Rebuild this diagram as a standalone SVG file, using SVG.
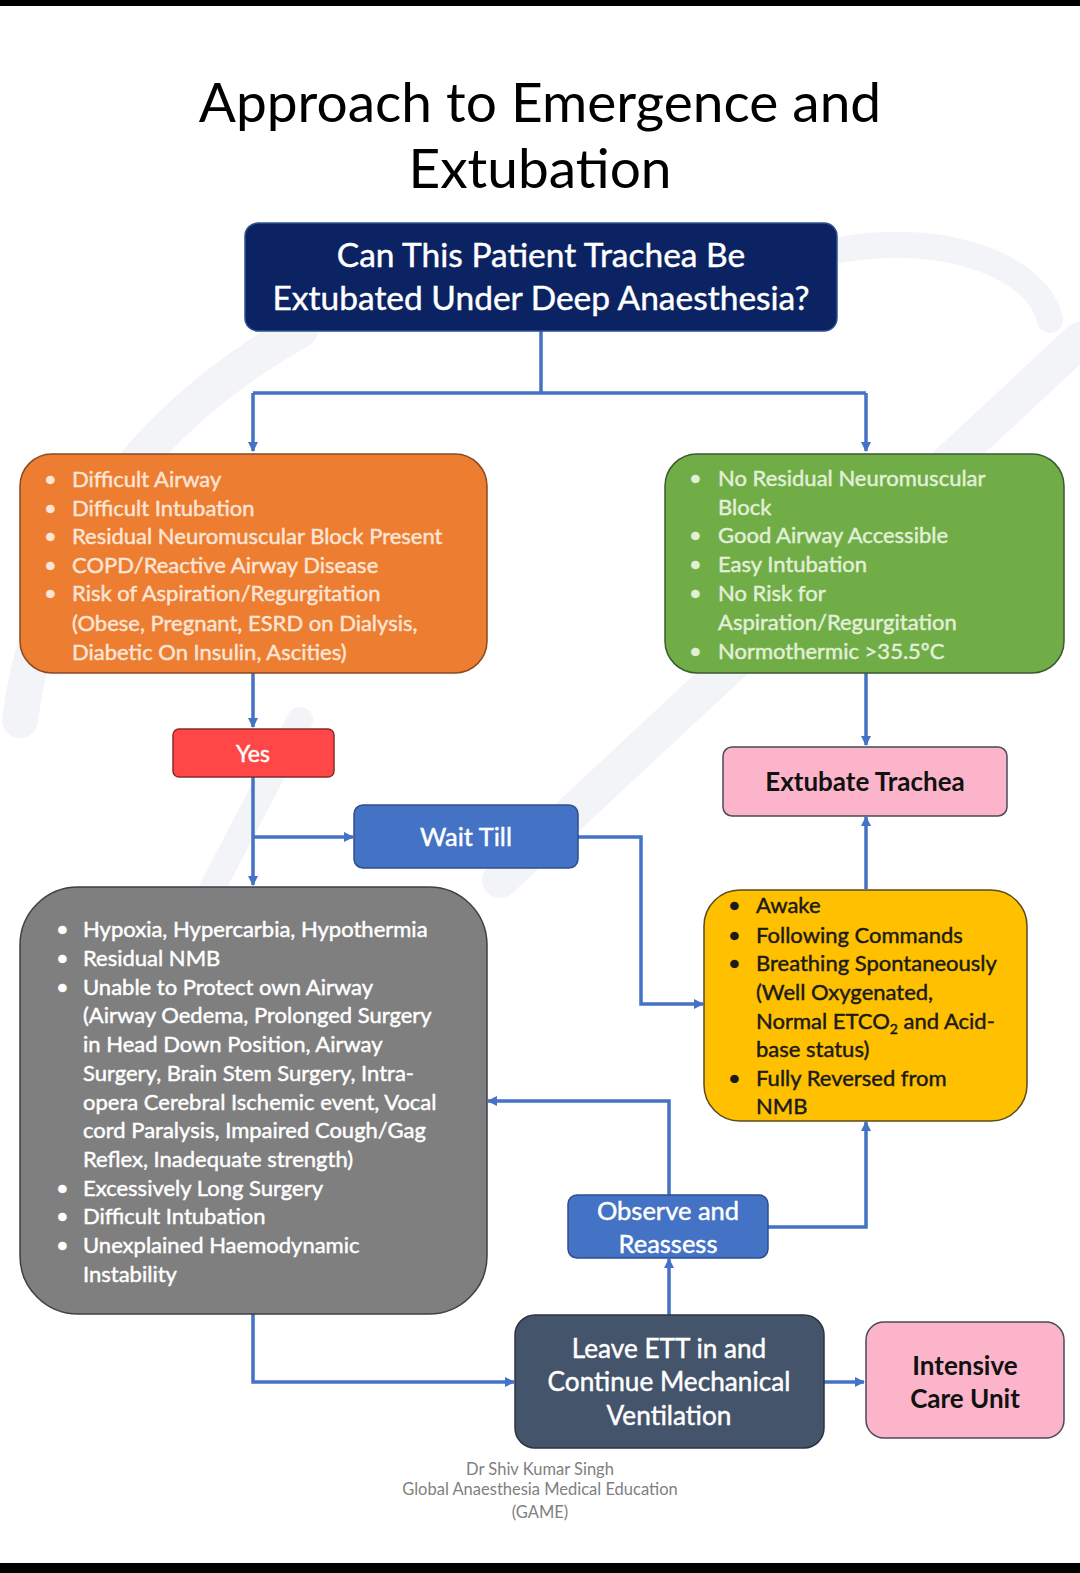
<svg xmlns="http://www.w3.org/2000/svg" width="1080" height="1573" viewBox="0 0 1080 1573">
<defs>
<marker id="arr" viewBox="0 0 10 10" refX="9" refY="5" markerWidth="10" markerHeight="10" markerUnits="userSpaceOnUse" orient="auto">
<path d="M0,0 L10,5 L0,10 z" fill="#4472c4"/>
</marker>
<style>
.t{font-family:Lato,"Open Sans","Liberation Sans",sans-serif;}
.title{font-size:55px;fill:#000;text-anchor:middle;}
.body{font-size:22px;stroke-width:0.45px;}
.c{text-anchor:middle;}
.w{fill:#ffffff;stroke:#ffffff;}
.cream{fill:#fbe5d6;stroke:#fbe5d6;}
.lg{fill:#e2f0d9;stroke:#e2f0d9;}
.dk{fill:#1a1a1a;stroke:#1a1a1a;}
.s{stroke-width:0.45px;}
.b{font-weight:bold;}
.con{fill:none;stroke:#4472c4;stroke-width:3.5;}
.wm{fill:none;stroke:#f3f4f8;stroke-linecap:round;}
.foot{font-size:16.5px;fill:#808080;text-anchor:middle;}
</style>
</defs>
<rect x="0" y="0" width="1080" height="1573" fill="#ffffff"/>
<g id="watermark">
<path class="wm" d="M20,720 C40,560 140,420 300,330" stroke-width="36"/>
<path class="wm" d="M500,880 L1080,340" stroke-width="36"/>
<path class="wm" d="M840,250 C950,230 1040,270 1050,320" stroke-width="26"/>
<path class="wm" d="M60,1180 L300,720" stroke-width="26"/>
</g>
<rect x="0" y="0" width="1080" height="6" fill="#000"/>
<rect x="0" y="1563" width="1080" height="10" fill="#000"/>
<g id="title">
<text class="t title" x="540" y="122">Approach to Emergence and</text>
<text class="t title" x="540" y="188">Extubation</text>
</g>
<g id="connectors">
<path class="con" d="M541,331 V393 M253,393 H866"/>
<path class="con" d="M253,393 V451" marker-end="url(#arr)"/>
<path class="con" d="M866,393 V451" marker-end="url(#arr)"/>
<path class="con" d="M253,673 V727" marker-end="url(#arr)"/>
<path class="con" d="M866,673 V745" marker-end="url(#arr)"/>
<path class="con" d="M253,777 V885" marker-end="url(#arr)"/>
<path class="con" d="M253,837 H353" marker-end="url(#arr)"/>
<path class="con" d="M578,837 H641 V1004 H703" marker-end="url(#arr)"/>
<path class="con" d="M866,889 V817" marker-end="url(#arr)"/>
<path class="con" d="M669,1195 V1101 H488" marker-end="url(#arr)"/>
<path class="con" d="M768,1227 H866 V1122" marker-end="url(#arr)"/>
<path class="con" d="M669,1315 V1259" marker-end="url(#arr)"/>
<path class="con" d="M253,1314 V1382 H514" marker-end="url(#arr)"/>
<path class="con" d="M824,1382 H864" marker-end="url(#arr)"/>
</g>
<g id="n-question">
<rect x="245" y="223" width="592" height="108" rx="13" fill="#0b2263" stroke="#2f528f" stroke-width="1.5"/>
<text class="t w c s" font-size="33.5" x="541" y="267">Can This Patient Trachea Be</text>
<text class="t w c s" font-size="33.5" x="541" y="310">Extubated Under Deep Anaesthesia?</text>
</g>
<g id="n-contra" class="t body cream">
<rect x="20" y="454" width="467" height="219" rx="32" fill="#ed7d31" stroke="#8b4a22" stroke-width="1.5"/>
<text x="44" y="487">•</text><text x="72" y="487">Difficult Airway</text>
<text x="44" y="516">•</text><text x="72" y="516">Difficult Intubation</text>
<text x="44" y="544">•</text><text x="72" y="544">Residual Neuromuscular Block Present</text>
<text x="44" y="573">•</text><text x="72" y="573">COPD/Reactive Airway Disease</text>
<text x="44" y="601">•</text><text x="72" y="601">Risk of Aspiration/Regurgitation</text>
<text x="72" y="631">(Obese, Pregnant, ESRD on Dialysis,</text>
<text x="72" y="660">Diabetic On Insulin, Ascities)</text>
</g>
<g id="n-favour" class="t body lg">
<rect x="665" y="454" width="399" height="219" rx="32" fill="#70ad47" stroke="#3a5a32" stroke-width="1.5"/>
<text x="689" y="486">•</text><text x="718" y="486">No Residual Neuromuscular</text>
<text x="718" y="515">Block</text>
<text x="689" y="543">•</text><text x="718" y="543">Good Airway Accessible</text>
<text x="689" y="572">•</text><text x="718" y="572">Easy Intubation</text>
<text x="689" y="601">•</text><text x="718" y="601">No Risk for</text>
<text x="718" y="630">Aspiration/Regurgitation</text>
<text x="689" y="659">•</text><text x="718" y="659">Normothermic &gt;35.5ºC</text>
</g>
<g id="n-yes">
<rect x="173" y="729" width="161" height="48" rx="6" fill="#ff4747" stroke="#8b2a2a" stroke-width="1.5"/>
<text class="t w c s" font-size="23" x="253" y="762">Yes</text>
</g>
<g id="n-extubate">
<rect x="723" y="747" width="284" height="69" rx="9" fill="#fbb4c9" stroke="#4a4a5a" stroke-width="1.5"/>
<text class="t b c" font-size="26" fill="#111" x="865" y="791">Extubate Trachea</text>
</g>
<g id="n-wait">
<rect x="354" y="805" width="224" height="63" rx="9" fill="#4472c4" stroke="#2f4f8f" stroke-width="1.5"/>
<text class="t w c s" font-size="25.5" x="466" y="846">Wait Till</text>
</g>
<g id="n-criteria" class="t body dk">
<rect x="704" y="890" width="323" height="231" rx="36" fill="#ffc000" stroke="#5a4a20" stroke-width="1.5"/>
<text x="728" y="913">•</text><text x="756" y="913">Awake</text>
<text x="728" y="943">•</text><text x="756" y="943">Following Commands</text>
<text x="728" y="971">•</text><text x="756" y="971">Breathing Spontaneously</text>
<text x="756" y="1000">(Well Oxygenated,</text>
<text x="756" y="1029">Normal ETCO<tspan font-size="14" dy="5">2</tspan><tspan dy="-5"> and Acid-</tspan></text>
<text x="756" y="1057">base status)</text>
<text x="728" y="1086">•</text><text x="756" y="1086">Fully Reversed from</text>
<text x="756" y="1114">NMB</text>
</g>
<g id="n-reasons" class="t body w">
<rect x="20" y="887" width="467" height="427" rx="58" fill="#7f7f7f" stroke="#3f3f4a" stroke-width="1.5"/>
<text x="56" y="937">•</text><text x="83" y="937">Hypoxia, Hypercarbia, Hypothermia</text>
<text x="56" y="966">•</text><text x="83" y="966">Residual NMB</text>
<text x="56" y="995">•</text><text x="83" y="995">Unable to Protect own Airway</text>
<text x="83" y="1023">(Airway Oedema, Prolonged Surgery</text>
<text x="83" y="1052">in Head Down Position, Airway</text>
<text x="83" y="1081">Surgery, Brain Stem Surgery, Intra-</text>
<text x="83" y="1110">opera Cerebral Ischemic event, Vocal</text>
<text x="83" y="1138">cord Paralysis, Impaired Cough/Gag</text>
<text x="83" y="1167">Reflex, Inadequate strength)</text>
<text x="56" y="1196">•</text><text x="83" y="1196">Excessively Long Surgery</text>
<text x="56" y="1224">•</text><text x="83" y="1224">Difficult Intubation</text>
<text x="56" y="1253">•</text><text x="83" y="1253">Unexplained Haemodynamic</text>
<text x="83" y="1282">Instability</text>
</g>
<g id="n-observe">
<rect x="568" y="1195" width="200" height="63" rx="9" fill="#4472c4" stroke="#2f4f8f" stroke-width="1.5"/>
<text class="t w c s" font-size="25.5" x="668" y="1220">Observe and</text>
<text class="t w c s" font-size="25.5" x="668" y="1253">Reassess</text>
</g>
<g id="n-leave">
<rect x="515" y="1315" width="309" height="133" rx="20" fill="#44546a" stroke="#2a3445" stroke-width="1.5"/>
<text class="t w c s" font-size="26.2" x="669" y="1358">Leave ETT in and</text>
<text class="t w c s" font-size="26.2" x="669" y="1391">Continue Mechanical</text>
<text class="t w c s" font-size="26.2" x="669" y="1425">Ventilation</text>
</g>
<g id="n-icu">
<rect x="866" y="1322" width="198" height="116" rx="18" fill="#fbb4c9" stroke="#4a4a5a" stroke-width="1.5"/>
<text class="t b c" font-size="26" fill="#111" x="965" y="1375">Intensive</text>
<text class="t b c" font-size="26" fill="#111" x="965" y="1408">Care Unit</text>
</g>
<g id="footer">
<text class="t foot" x="540" y="1475">Dr Shiv Kumar Singh</text>
<text class="t foot" x="540" y="1495">Global Anaesthesia Medical Education</text>
<text class="t foot" x="540" y="1518">(GAME)</text>
</g>
</svg>
